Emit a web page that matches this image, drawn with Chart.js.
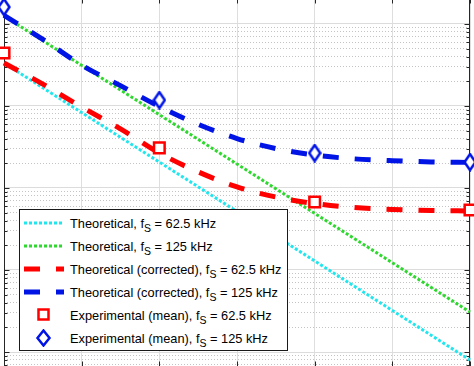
<!DOCTYPE html>
<html>
<head>
<meta charset="utf-8">
<script src="https://cdn.jsdelivr.net/npm/chart.js@4.4.1/dist/chart.umd.min.js"></script>
<style>
    html, body { margin: 0; padding: 0; background: #fff; }
    body {
        width: 474px; height: 366px; overflow: hidden; position: relative;
        font-family: "Liberation Sans", Arial, Helvetica, sans-serif;
    }
    #wrap { position: absolute; left: 0; top: 0; width: 474px; height: 366px; }
    #legend {
        position: absolute; left: 19px; top: 209px; width: 269px; height: 142px;
        box-sizing: border-box; background: #fff; border: 1px solid #1a1a1a;
    }
    .row { position: absolute; left: 0; height: 18px; display: flex; align-items: center; white-space: nowrap; }
    .row svg { margin-left: 4px; margin-right: 6px; }
    .label { font-size: 12.8px; color: #000; }
    .label sub { font-size: 10.5px; vertical-align: -4px; line-height: 0; }
</style>
</head>
<body>
<div id="wrap"><canvas id="chart"></canvas></div>
<div id="legend"></div>

<script>
// ==================== Data ====================

// x positions (arbitrary units, grid every 1)
const xTheory = [0, 2, 4, 6];
const xCorrected = [0, 0.5, 1, 1.5, 2, 2.5, 3, 3.5, 4, 4.5, 5, 5.5, 6];
const xMeasured = [0, 2, 4, 6];

// theoretical curves
const theory625 = [3.34e-2, 2.07e-3, 1.29e-4, 7.98e-6];
const theory125 = [1.25e-1, 7.83e-3, 4.90e-4, 3.07e-5];

// theoretical (corrected) curves
const corrected625 = [3.34e-2, 1.85e-2, 9.7e-3, 5.25e-3, 2.67e-3, 1.57e-3, 1.03e-3,
                      7.76e-4, 6.47e-4, 5.78e-4, 5.47e-4, 5.32e-4, 5.25e-4];
const corrected125 = [1.27e-1, 6.5e-2, 3.15e-2, 1.77e-2, 9.85e-3, 5.98e-3, 4.01e-3,
                      3.02e-3, 2.52e-3, 2.27e-3, 2.15e-3, 2.08e-3, 2.05e-3];

// experimental means
const measured625 = [4.43e-2, 3.08e-3, 6.75e-4, 5.40e-4];
const measured125 = [1.61e-1, 1.18e-2, 2.67e-3, 2.07e-3];

const labels = [
    'Theoretical, fS = 62.5 kHz',
    'Theoretical, fS = 125 kHz',
    'Theoretical (corrected), fS = 62.5 kHz',
    'Theoretical (corrected), fS = 125 kHz',
    'Experimental (mean), fS = 62.5 kHz',
    'Experimental (mean), fS = 125 kHz'
];

// axis limits and grid values
const X_MIN = 0, X_MAX = 6;
const Y_MIN = 6.75e-6, Y_MAX = 0.196;
const yDecades = [1e-6, 1e-5, 1e-4, 1e-3, 1e-2, 1e-1];
const yMultipliers = [1, 2, 3, 4, 5, 6, 7, 8, 9];

const AXIS_COLOR = '#262626';
const RED = '#ff0000';
const BLUE = '#0014e6';

function toPoints(xs, ys) {
    return xs.map((x, i) => ({ x: x, y: ys[i] }));
}

function isDecade(v) {
    const l = Math.log10(v);
    return Math.abs(l - Math.round(l)) < 1e-6;
}

const yGridValues = [];
yDecades.forEach(d => yMultipliers.forEach(m => {
    const v = d * m;
    if (v >= Y_MIN && v <= Y_MAX) yGridValues.push(v);
}));

// MATLAB diamonds are a bit taller than wide
function diamondMarker(color) {
    const c = document.createElement('canvas');
    c.width = 14; c.height = 19;
    const g = c.getContext('2d');
    g.beginPath();
    g.moveTo(7, 1.5); g.lineTo(12.5, 9.5); g.lineTo(7, 17.5); g.lineTo(1.5, 9.5);
    g.closePath();
    g.fillStyle = '#fff';
    g.fill();
    g.lineWidth = 2.5;
    g.strokeStyle = color;
    g.stroke();
    return c;
}

// ==================== Axes box (MATLAB style, ticks inside) ====================

const boxAxes = {
    id: 'boxAxes',
    beforeDatasetsDraw(chart) {
        const { ctx, chartArea: a, scales } = chart;
        const L = a.left + 0.5, R = a.right - 0.5, T = a.top - 0.5, B = a.bottom + 0.5;
        ctx.save();
        ctx.strokeStyle = AXIS_COLOR;
        ctx.lineWidth = 1;
        ctx.beginPath();
        ctx.moveTo(L, T); ctx.lineTo(L, B);
        ctx.moveTo(R, T); ctx.lineTo(R, B);
        ctx.moveTo(L, T); ctx.lineTo(R, T);
        ctx.moveTo(L, B); ctx.lineTo(R, B);

        yGridValues.forEach(v => {
            const py = Math.round(scales.y.getPixelForValue(v)) + 0.5;
            const len = isDecade(v) ? 5 : 3;
            ctx.moveTo(L, py); ctx.lineTo(L + len, py);
            ctx.moveTo(R, py); ctx.lineTo(R - len, py);
        });
        for (let v = X_MIN; v <= X_MAX; v++) {
            const px = Math.round(scales.x.getPixelForValue(v)) + 0.5;
            ctx.moveTo(px, T); ctx.lineTo(px, T + 4);
            ctx.moveTo(px, B); ctx.lineTo(px, B - 5);
        }
        ctx.stroke();
        ctx.restore();
    }
};

// ==================== Chart ====================

const chart = new Chart(document.getElementById('chart'), {
    type: 'line',
    data: {
        datasets: [
            {
                label: labels[0], data: toPoints(xTheory, theory625),
                borderColor: '#22e6ee', borderWidth: 3, borderDash: [3, 2],
                pointRadius: 0, order: 5
            },
            {
                label: labels[1], data: toPoints(xTheory, theory125),
                borderColor: '#2fd82f', borderWidth: 3, borderDash: [3, 2],
                pointRadius: 0, order: 4
            },
            {
                label: labels[2], data: toPoints(xCorrected, corrected625),
                borderColor: RED, borderWidth: 5, borderDash: [16, 16],
                cubicInterpolationMode: 'monotone', pointRadius: 0, order: 3
            },
            {
                label: labels[3], data: toPoints(xCorrected, corrected125),
                borderColor: BLUE, borderWidth: 5, borderDash: [16, 16],
                cubicInterpolationMode: 'monotone', pointRadius: 0, order: 2
            },
            {
                label: labels[4], data: toPoints(xMeasured, measured625),
                showLine: false, pointStyle: 'rect', pointRadius: 7.5,
                pointBorderWidth: 2.5, pointBorderColor: RED,
                pointBackgroundColor: '#ffffff', borderColor: RED, order: 1,
                marker: 'square'
            },
            {
                label: labels[5], data: toPoints(xMeasured, measured125),
                showLine: false, pointStyle: diamondMarker(BLUE), pointRadius: 8,
                pointBorderWidth: 2.5, pointBorderColor: BLUE,
                pointBackgroundColor: '#ffffff', borderColor: BLUE, order: 0,
                marker: 'diamond'
            }
        ]
    },
    options: {
        responsive: true,
        maintainAspectRatio: false,
        animation: false,
        clip: false,
        layout: { autoPadding: false, padding: { left: 4, right: 4, top: 0, bottom: 0 } },
        plugins: { legend: { display: false }, tooltip: { enabled: false } },
        scales: {
            x: {
                type: 'linear', min: X_MIN, max: X_MAX,
                ticks: { display: false, stepSize: 1, autoSkip: false },
                grid: { color: '#dedede', drawTicks: false },
                border: { display: false }
            },
            y: {
                type: 'logarithmic', min: Y_MIN, max: Y_MAX,
                ticks: { display: false, autoSkip: false },
                afterBuildTicks: axis => {
                    axis.ticks = yGridValues.map(v => ({ value: v, major: isDecade(v) }));
                },
                grid: {
                    drawTicks: false,
                    color: c => (c.tick && isDecade(c.tick.value)) ? '#dcdcdc' : '#c4c4c4'
                },
                border: {
                    display: false,
                    dash: c => (c.tick && !isDecade(c.tick.value)) ? [1, 2] : []
                }
            }
        }
    },
    plugins: [boxAxes]
});

// ==================== Legend (MATLAB style box) ====================

const ROW_TOP = 4;
const ROW_STEP = 23;

function legendSample(ds) {
    const ns = 'http://www.w3.org/2000/svg';
    const svg = document.createElementNS(ns, 'svg');
    svg.setAttribute('width', 40);
    svg.setAttribute('height', 18);
    let shape;
    if (ds.marker === 'square') {
        shape = document.createElementNS(ns, 'rect');
        shape.setAttribute('x', 14.5); shape.setAttribute('y', 3.5);
        shape.setAttribute('width', 10); shape.setAttribute('height', 10);
        shape.setAttribute('fill', '#fff');
        shape.setAttribute('stroke', ds.pointBorderColor);
        shape.setAttribute('stroke-width', ds.pointBorderWidth);
    } else if (ds.marker === 'diamond') {
        shape = document.createElementNS(ns, 'polygon');
        shape.setAttribute('points', '19.5,1.5 25.5,9 19.5,16.5 13.5,9');
        shape.setAttribute('fill', '#fff');
        shape.setAttribute('stroke', ds.pointBorderColor);
        shape.setAttribute('stroke-width', ds.pointBorderWidth);
    } else {
        shape = document.createElementNS(ns, 'line');
        shape.setAttribute('x1', 0); shape.setAttribute('x2', 40);
        shape.setAttribute('y1', 9); shape.setAttribute('y2', 9);
        shape.setAttribute('stroke', ds.borderColor);
        shape.setAttribute('stroke-width', ds.borderWidth);
        shape.setAttribute('stroke-dasharray', ds.borderDash.join(' '));
    }
    svg.appendChild(shape);
    return svg;
}

function buildLegend(chart) {
    const box = document.getElementById('legend');
    chart.data.datasets.forEach((ds, i) => {
        const row = document.createElement('div');
        row.className = 'row';
        row.style.top = (ROW_TOP + i * ROW_STEP) + 'px';
        row.appendChild(legendSample(ds));
        const text = document.createElement('span');
        text.className = 'label';
        text.innerHTML = ds.label.replace('fS', 'f<sub>S</sub>');
        row.appendChild(text);
        box.appendChild(row);
    });
}

buildLegend(chart);
</script>
</body>
</html>
